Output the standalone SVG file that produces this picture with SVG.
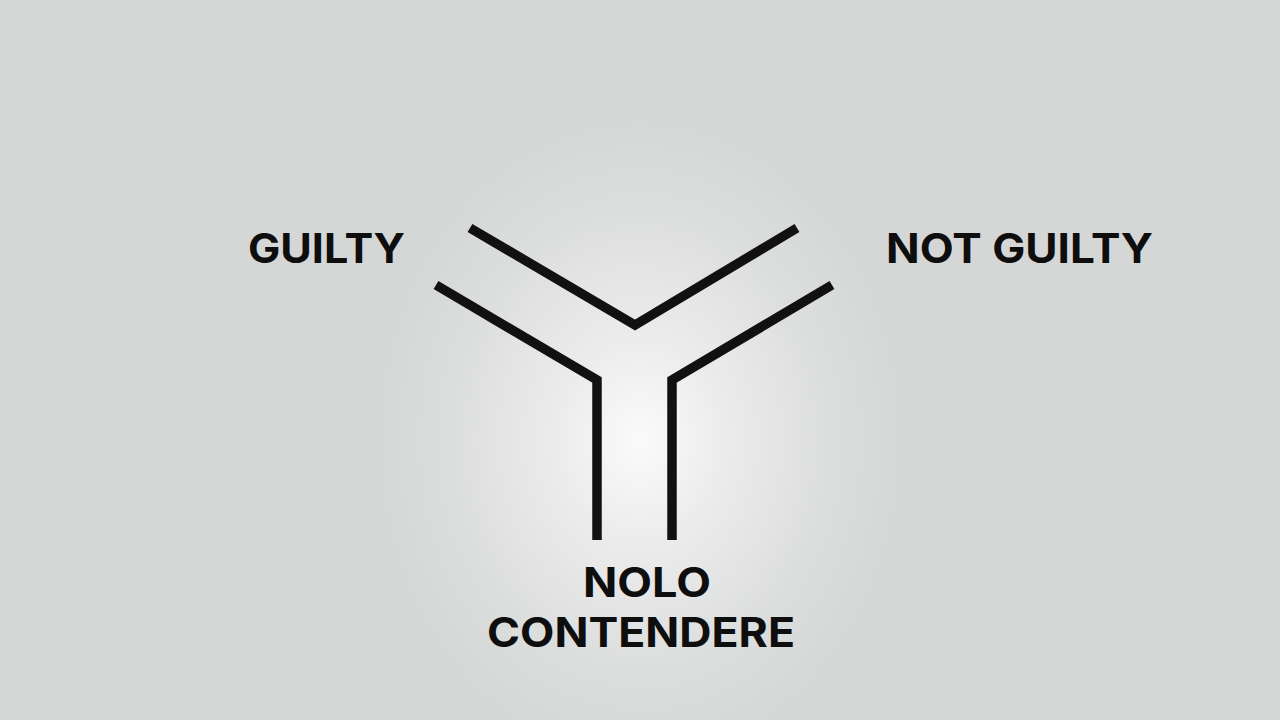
<svg xmlns="http://www.w3.org/2000/svg" width="1280" height="720" viewBox="0 0 1280 720">
  <defs>
    <radialGradient id="glow" cx="640" cy="440" r="300" gradientUnits="userSpaceOnUse" gradientTransform="translate(640 440) scale(0.9 1.1) translate(-640 -440)">
      <stop offset="0" stop-color="#fbfbfb"/>
      <stop offset="0.3" stop-color="#ececec"/>
      <stop offset="0.7" stop-color="#dcdedd"/>
      <stop offset="1" stop-color="#d5d7d6"/>
    </radialGradient>
    <style>
      .lbl { font-family: Inter, "Open Sans", "Liberation Sans", sans-serif; font-weight: 700; font-size: 41px; fill: #0e0e0e; }
      .br { fill: none; stroke: #111111; stroke-width: 9.5; stroke-linejoin: miter; stroke-linecap: butt; }
    </style>
  </defs>
  <rect width="1280" height="720" fill="#d5d7d6"/>
  <rect width="1280" height="720" fill="url(#glow)"/>
  <g id="connectors">
    <polyline class="br" points="470,228 635,325 797,228"/>
    <polyline class="br" points="436,285 597,380 597,540"/>
    <polyline class="br" points="832,285 672,380 672,540"/>
  </g>
  <g id="guilty">
    <text class="lbl" x="248" y="263" textLength="157" lengthAdjust="spacingAndGlyphs">GUILTY</text>
  </g>
  <g id="not-guilty">
    <text class="lbl" x="886" y="263" textLength="267" lengthAdjust="spacingAndGlyphs">NOT GUILTY</text>
  </g>
  <g id="nolo-contendere">
    <text class="lbl" x="583" y="597" textLength="128" lengthAdjust="spacingAndGlyphs">NOLO</text>
    <text class="lbl" x="487" y="647" textLength="308" lengthAdjust="spacingAndGlyphs">CONTENDERE</text>
  </g>
</svg>
